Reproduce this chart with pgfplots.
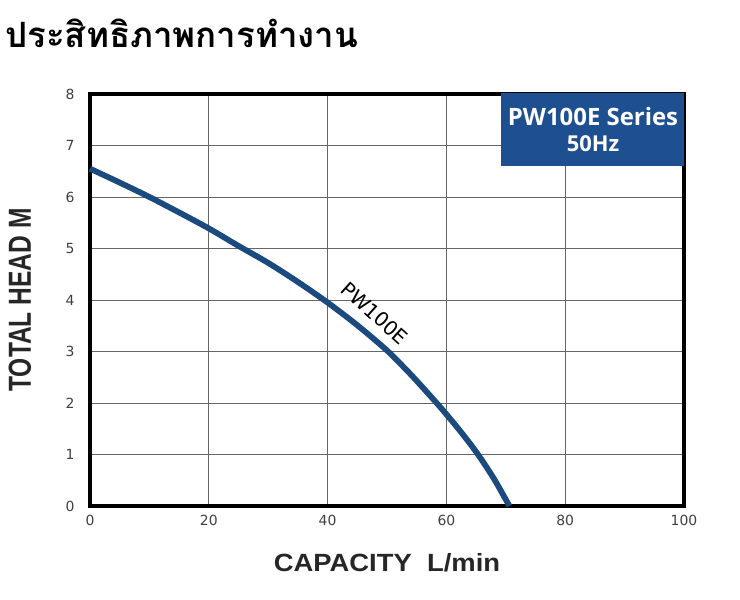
\documentclass[border=0pt]{standalone}
\usepackage{graphicx}
\usepackage{pgfplots}
\pgfplotsset{compat=1.18}
\usepackage{fontspec}
\setmainfont{Liberation Sans}
\newfontfamily\thaifont[Script=Thai]{Loma}
\newfontfamily\boxfont{Open Sans}
\newfontfamily\dvs{DejaVu Sans}
\definecolor{curveblue}{HTML}{1B4A7E}
\definecolor{boxblue}{HTML}{1E4F91}
\begin{document}
\begin{tikzpicture}[x=1bp,y=1bp]
\useasboundingbox (0,0) rectangle (740,600);
\node[anchor=west, inner sep=0, font=\thaifont\bfseries\fontsize{35}{37}\selectfont] at (5,567) {ประสิทธิภาพการทำงาน};
\begin{axis}[
  at={(90bp,94bp)}, anchor=south west,
  scale only axis, width=594bp, height=412bp,
  xmin=0, xmax=100, ymin=0, ymax=8,
  xtick={0,20,...,100}, ytick={0,1,...,8},
  grid=major, grid style={draw=black!60, line width=0.9bp},
  axis line style={line width=4bp, black},
  tick style={draw=none},
  /pgf/number format/assume math mode=true,
  ticklabel style={font=\dvs\fontsize{14}{14}\selectfont, text=black!75},
  xticklabel style={yshift=-6bp},
  yticklabel style={xshift=-12bp},
  xlabel={\scalebox{1.1}[1]{CAPACITY\ \ L/min}},
  ylabel={\scalebox{0.77}[1]{TOTAL HEAD M}},
  xlabel style={at={(axis description cs:0.5,0)}, anchor=north, inner sep=0, yshift=-47bp, font=\bfseries\fontsize{25}{25}\selectfont, text=black!85},
  ylabel style={at={(axis description cs:-0.118,0.5)}, anchor=center, inner sep=0, font=\bfseries\fontsize{32}{32}\selectfont, text=black!85},
  clip=false,
]
\addplot[curveblue, line width=5.8bp, smooth] coordinates {
 (0,6.55) (5,6.28) (10,6.00) (15,5.70) (20,5.39) (25,5.05) (30,4.72)
 (35,4.35) (40,3.95) (45,3.51) (50,3.02) (53.2,2.65) (55,2.43) (58.2,2.02)
 (60,1.78) (62.5,1.43) (65.2,1.02) (68,0.53) (70.6,0)
};
\node[rotate=-42, font=\dvs\fontsize{20}{20}\selectfont, inner sep=0] at (axis cs:47.9,3.74) {PW100E};
\end{axis}
\fill[boxblue] (500.7,434) rectangle (684,507);
\node[text=white, font=\boxfont\bfseries\fontsize{24}{24}\selectfont, inner sep=0] at (593,483) {PW100E Series};
\node[text=white, font=\boxfont\bfseries\fontsize{22}{22}\selectfont, inner sep=0] at (593,456) {50Hz};
\end{tikzpicture}
\end{document}
